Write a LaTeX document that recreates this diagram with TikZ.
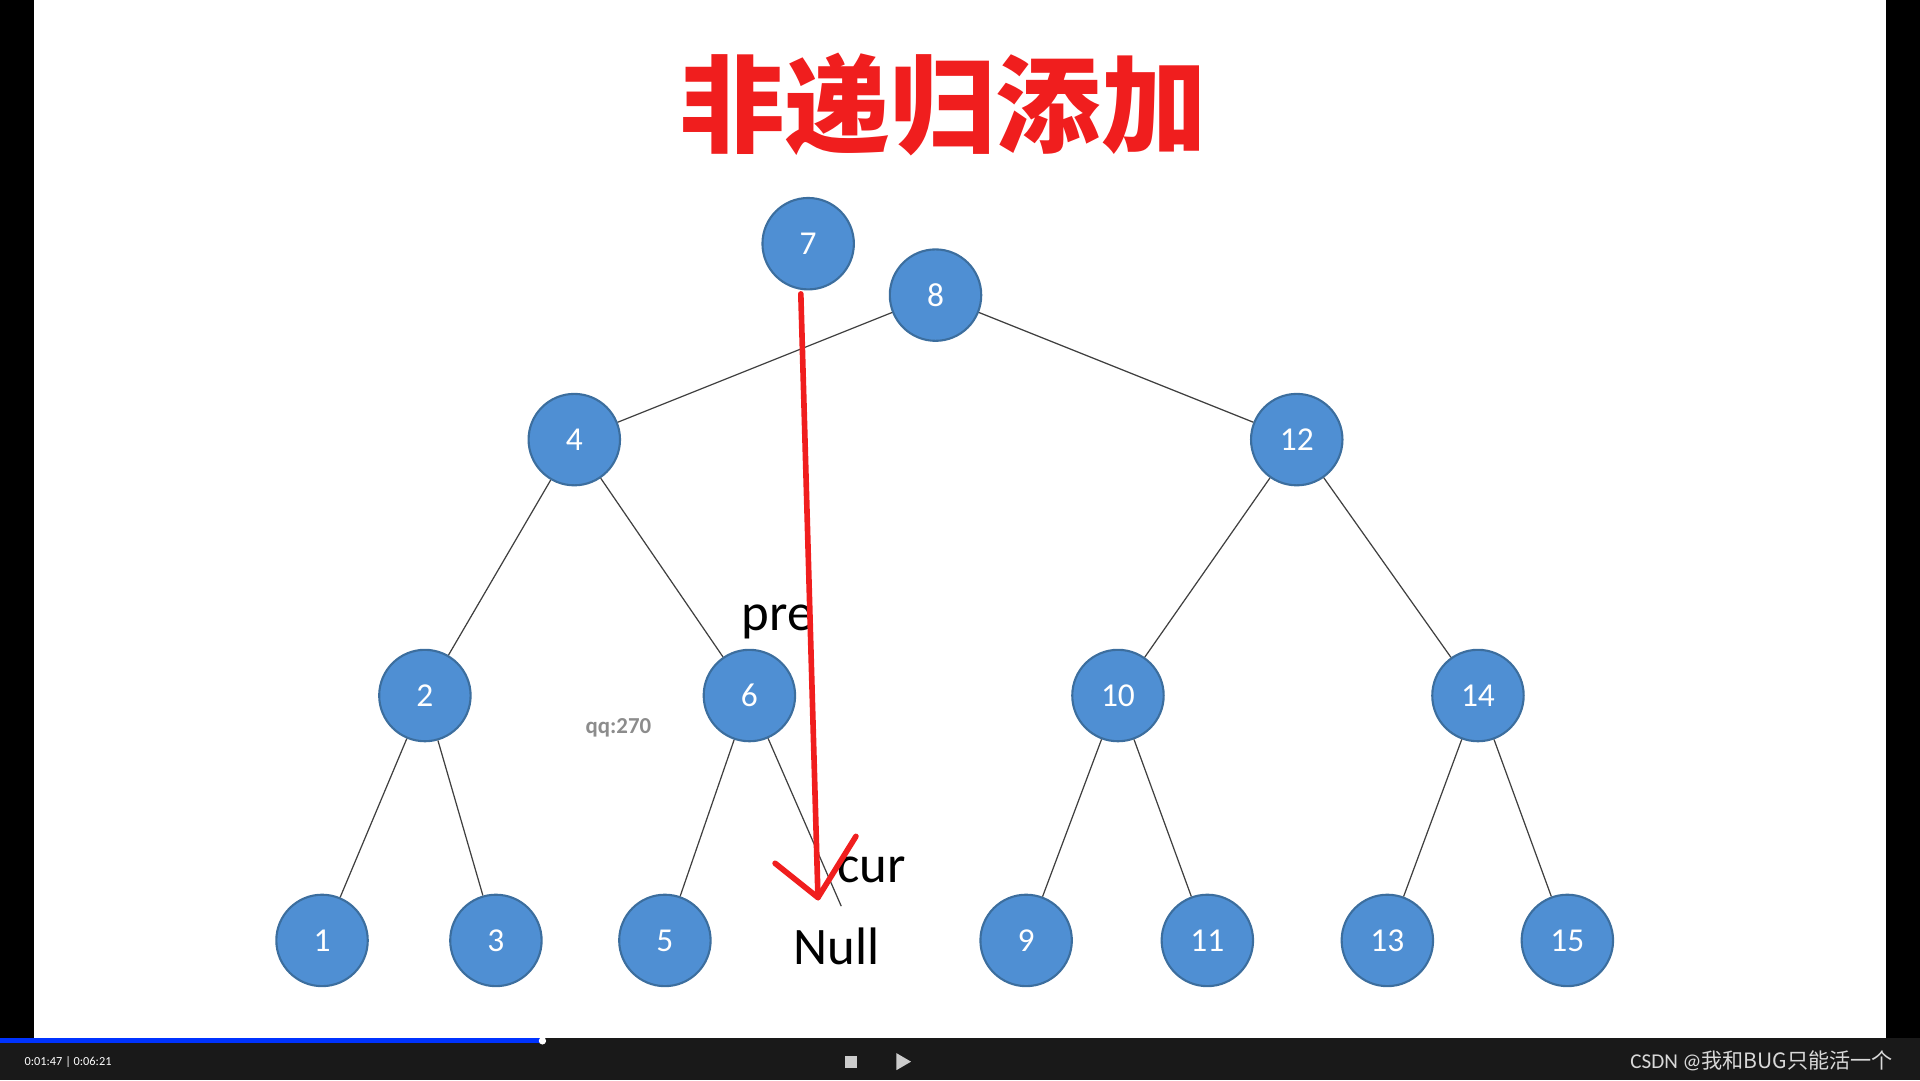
\documentclass[tikz,border=0pt]{standalone}
\usepackage{fontspec}
\setmainfont{Carlito}
\newfontfamily\cjk{Noto Sans CJK SC}
\usetikzlibrary{positioning}
\definecolor{nodeblue}{HTML}{4F8FD3}
\definecolor{nodeedge}{HTML}{3C6E9E}
\definecolor{titlered}{HTML}{F01E1E}
\tikzset{
  tnode/.style={circle, draw=nodeedge, fill=nodeblue, line width=0.6pt, minimum size=26pt, inner sep=0pt, text=white, font=\fontsize{9.5}{10}\selectfont},
  tedge/.style={draw=black!75, line width=0.35pt},
  lbl/.style={font=\fontsize{15}{16}\selectfont, inner sep=0pt}
}
\begin{document}
\begin{tikzpicture}[x=0.012245cm, y=-0.012245cm]
    \useasboundingbox (0,0) rectangle (1568,882);
    % frame and player bar
    \fill[black] (0,0) rectangle (28,882);
    \fill[black] (1540,0) rectangle (1568,882);
    \fill[black!90] (0,848) rectangle (1568,882);
    \fill[blue!80!cyan] (0,848) rectangle (443,852);
    \fill[white] (443,850) circle (3);
    \node[text=white, font=\fontsize{3.5}{4}\selectfont, anchor=west] (time) at (10,867) {0:01:47 | 0:06:21};
    \fill[white!80!black] (690,862) rectangle (700,872);
    \fill[white!80!black] (732,860) -- (744,867) -- (732,874) -- cycle;
    \node[text=white!85!black, font=\fontsize{6}{7}\selectfont, anchor=east] (mark) at (1556,866) {CSDN @\cjk 我和BUG只能活一个};

    % title
    \node[text=titlered, font=\cjk\bfseries\fontsize{30}{32}\selectfont] (title) at (770,85) {非递归添加};

    % tree nodes
    \node[tnode] (n7) at (660,199) {7};
    \node[tnode] (n8) at (764,241) {8};
    \node[tnode] (n4) at (469,359) {4};
    \node[tnode] (n12) at (1059,359) {12};
    \node[tnode] (n2) at (347,568) {2};
    \node[tnode] (n6) at (612,568) {6};
    \node[tnode] (n10) at (913,568) {10};
    \node[tnode] (n14) at (1207,568) {14};
    \node[tnode] (n1) at (263,768) {1};
    \node[tnode] (n3) at (405,768) {3};
    \node[tnode] (n5) at (543,768) {5};
    \node[tnode] (n9) at (838,768) {9};
    \node[tnode] (n11) at (986,768) {11};
    \node[tnode] (n13) at (1133,768) {13};
    \node[tnode] (n15) at (1280,768) {15};
    \coordinate (nullend) at (687,740);

    % edges
    \draw[tedge] (n8) -- (n4);
    \draw[tedge] (n8) -- (n12);
    \draw[tedge] (n4) -- (n2);
    \draw[tedge] (n4) -- (n6);
    \draw[tedge] (n12) -- (n10);
    \draw[tedge] (n12) -- (n14);
    \draw[tedge] (n2) -- (n1);
    \draw[tedge] (n2) -- (n3);
    \draw[tedge] (n6) -- (n5);
    \draw[tedge] (n6) -- (nullend);
    \draw[tedge] (n10) -- (n9);
    \draw[tedge] (n10) -- (n11);
    \draw[tedge] (n14) -- (n13);
    \draw[tedge] (n14) -- (n15);

    % labels
    \node[lbl] (pre) at (635,508) {pre};
    \node[lbl] (cur) at (712,710) {cur};
    \node[lbl] (null) at (683,773) {Null};
    \node[text=black!45, font=\bfseries\fontsize{6.5}{7}\selectfont] (qq) at (505,594) {qq:270};

    % red insertion arrow
    \coordinate (rstart) at (654,240);
    \coordinate (rtip) at (668,733);
    \draw[titlered, line width=1.6pt, line cap=round, line join=round] (rstart) -- (rtip);
    \draw[titlered, line width=1.6pt, line cap=round, line join=round] (633,705) -- (rtip) -- (699,683);
\end{tikzpicture}
\end{document}
